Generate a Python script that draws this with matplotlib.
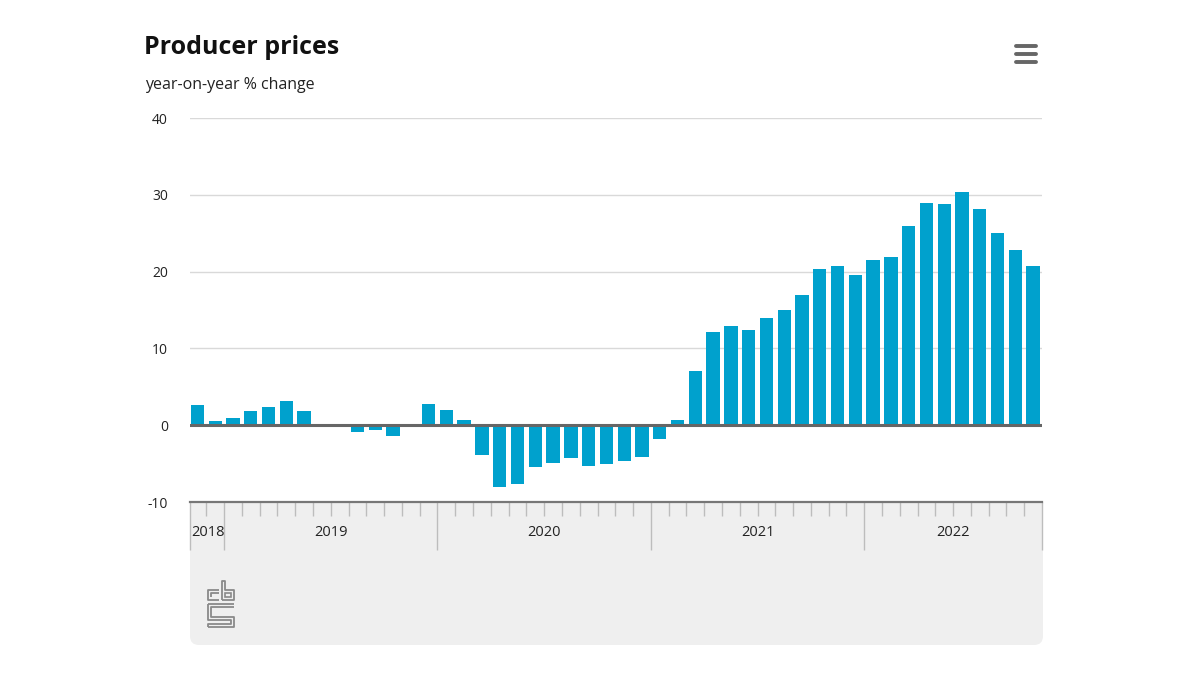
import matplotlib
matplotlib.use("Agg")
import matplotlib.pyplot as plt
from matplotlib.patches import FancyBboxPatch, Rectangle
import numpy as np

# ---- data ----
months = ["2018-11", "2018-12"] + [f"{y}-{m:02d}" for y in (2019, 2020, 2021) for m in range(1, 13)] \
         + [f"2022-{m:02d}" for m in range(1, 11)]
values = [2.6, 0.5,
          0.9, 1.9, 2.4, 3.2, 1.9, 0.2, 0.0, -0.9, -0.6, -1.4, 0.0, 2.8,
          2.0, 0.7, -3.9, -8.1, -7.7, -5.4, -4.9, -4.3, -5.3, -5.1, -4.7, -4.1,
          -1.8, 0.7, 7.0, 12.2, 12.9, 12.4, 13.9, 15.0, 17.0, 20.3, 20.7, 19.6,
          21.5, 21.9, 25.9, 28.9, 28.8, 30.3, 28.2, 25.0, 22.8, 20.7]
year_labels = ["2018", "2019", "2020", "2021", "2022"]
y_ticks = [-10, 0, 10, 20, 30, 40]
title = "Producer prices"
subtitle = "year-on-year % change"

BAR = "#00a1cd"
W, H = 1200, 675
fig = plt.figure(figsize=(12, 6.75), dpi=100)
fig.patch.set_facecolor("white")

def fx(px): return px / W
def fy(py): return 1 - py / H

TITLE_FONT = ["Open Sans", "DejaVu Sans"]
BODY_FONT = ["Open Sans", "DejaVu Sans"]

# gray band under the plot
axb = fig.add_axes([fx(190), fy(645), fx(853), (645 - 502) / H])
axb.set_xlim(0, 853); axb.set_ylim(0, 143); axb.axis("off")
axb.add_patch(FancyBboxPatch((0, 0), 853, 143, boxstyle="round,pad=0,rounding_size=9",
                             fc="#efefef", ec="none"))
axb.add_patch(Rectangle((0, 60), 853, 83, fc="#efefef", ec="none"))
# cbs logo approximation
lg = dict(color="#8a8a8a", lw=1.3, solid_capstyle="butt")
ox, oy = 18, 18   # bottom-left of logo in band coords
axb.plot([ox, ox + 26, ox + 26, ox + 3, ox + 3, ox + 26], [oy, oy, oy + 10, oy + 10, oy + 20, oy + 20], **lg)
axb.plot([ox, ox, ox + 23, ox + 23, ox, ox], [oy, oy + 3, oy + 3, oy + 7, oy + 7, oy + 23], **lg)
axb.plot([ox, ox + 26], [oy + 23, oy + 23], **lg)
axb.plot([ox + 11, ox, ox, ox + 11], [oy + 27, oy + 27, oy + 37, oy + 37], **lg)
axb.plot([ox + 3, ox + 3, ox + 11], [oy + 30, oy + 34, oy + 34], **lg)
axb.plot([ox + 14, ox + 26, ox + 26, ox + 17, ox + 17, ox + 14, ox + 14], [oy + 27, oy + 27, oy + 37, oy + 37, oy + 46, oy + 46, oy + 27], **lg)
axb.add_patch(Rectangle((ox + 17, oy + 30), 6, 4, fc="none", ec="#8a8a8a", lw=1.2))

# main axes
ax = fig.add_axes([fx(190), fy(502), fx(852), (502 - 118) / H])
x = np.arange(len(values))
ax.bar(x, values, width=0.75, color=BAR, zorder=3)
ax.set_xlim(-0.42, len(values) - 0.5)
ax.set_ylim(-10, 40)
ax.set_yticks(y_ticks)
ax.set_yticklabels([str(v) for v in y_ticks], fontsize=10, color="#222", family=BODY_FONT)
ax.tick_params(axis="y", length=0, pad=16)
for v in y_ticks[2:]:
    ax.axhline(v, color="#d9d9d9", lw=1, zorder=1)
ax.axhline(0, color="#666666", lw=2.2, zorder=4)
for s in ["top", "right", "left"]:
    ax.spines[s].set_visible(False)
ax.spines["bottom"].set_color("#777777")
ax.spines["bottom"].set_linewidth(1.6)
ax.spines["bottom"].set_zorder(5)
ax.set_facecolor("none")

# x ticks: month boundaries and year boundaries
year_starts = [-0.42, 1.5, 13.5, 25.5, 37.5, len(values) - 0.5]
minor = [i + 0.5 for i in range(-1, len(values))]
minor = [m for m in minor if m not in year_starts and m > -0.42 and m < len(values) - 0.5]
ax.set_xticks(year_starts)
ax.set_xticklabels([])
ax.set_xticks(minor, minor=True)
ax.tick_params(axis="x", which="major", length=34.5, width=1, color="#bdbdbd", direction="out")
ax.tick_params(axis="x", which="minor", length=10, width=1, color="#bdbdbd", direction="out")
trans = ax.get_xaxis_transform()
for i, lab in enumerate(year_labels):
    cx = (year_starts[i] + year_starts[i + 1]) / 2
    if i == 0:
        ax.text(year_starts[0] + 0.05, -31 / 384, lab, transform=trans, ha="left", va="center",
                fontsize=10.5, color="#222", family=BODY_FONT)
    else:
        ax.text(cx, -31 / 384, lab, transform=trans, ha="center", va="center",
                fontsize=10.5, color="#222", family=BODY_FONT)

# title & subtitle
fig.text(fx(144), fy(47), title, fontsize=18, fontweight="bold", color="#111",
         ha="left", va="center", family=TITLE_FONT)
fig.text(fx(145), fy(85), subtitle, fontsize=11.5, color="#222",
         ha="left", va="center", family=BODY_FONT)

# hamburger icon
for yy in (46, 54, 62):
    fig.add_artist(plt.Line2D([fx(1016), fx(1036)], [fy(yy), fy(yy)], color="#666666",
                              lw=2.8, solid_capstyle="round"))

fig.savefig("out.png", dpi=100, facecolor="white")
